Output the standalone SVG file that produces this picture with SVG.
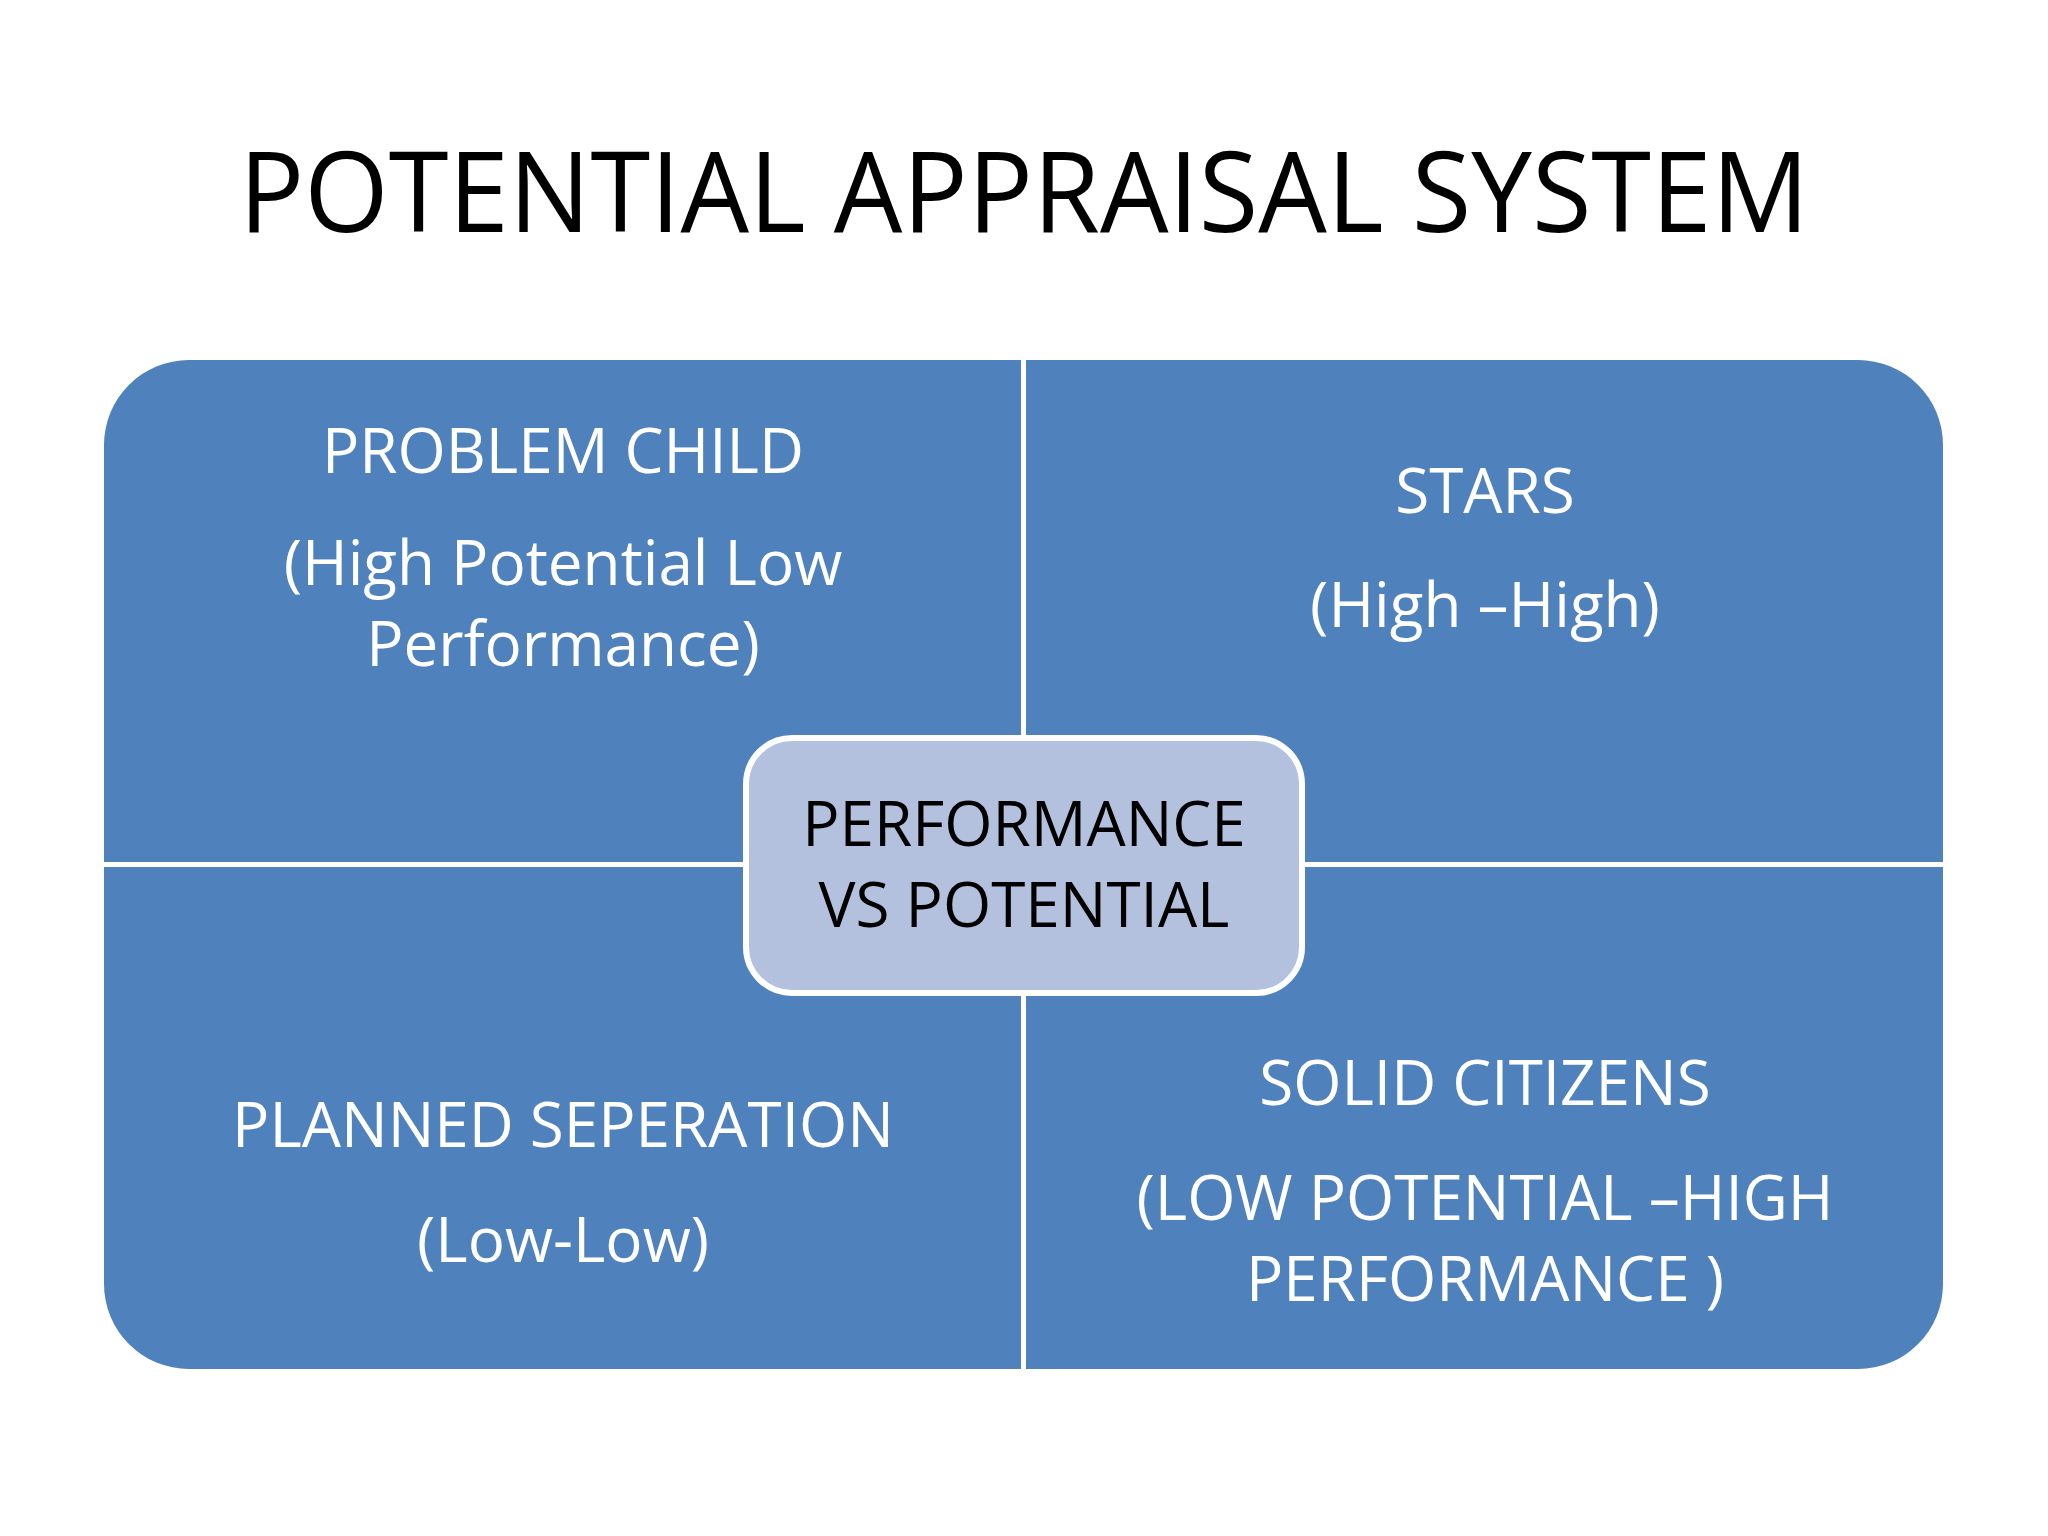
<svg xmlns="http://www.w3.org/2000/svg" width="2048" height="1536" viewBox="0 0 2048 1536">
<style>
.q{fill:#4f81bd}
.t{font-family:"Open Sans","Liberation Sans",sans-serif;font-size:62px;fill:#fff;text-anchor:middle}
.c{font-family:"Open Sans","Liberation Sans",sans-serif;font-size:62px;fill:#000;text-anchor:middle}
</style>
<rect width="2048" height="1536" fill="#fff"/>
<text x="1024" y="232" font-family="Open Sans, Liberation Sans, sans-serif" font-size="112" text-anchor="middle" textLength="1570" lengthAdjust="spacingAndGlyphs">POTENTIAL APPRAISAL SYSTEM</text>
<g id="q1"><path class="q" d="M104 865V445A85 85 0 0 1 189 360H1021V862H104Z"/>
<text class="t" x="563" y="473">PROBLEM CHILD</text>
<text class="t" x="563" y="585">(High Potential Low</text>
<text class="t" x="563" y="666">Performance)</text></g>
<g id="q2"><path class="q" d="M1026 360H1858A85 85 0 0 1 1943 445V862H1026Z"/>
<text class="t" x="1485" y="513">STARS</text>
<text class="t" x="1485" y="627">(High –High)</text></g>
<g id="q3"><path class="q" d="M104 867H1021V1369H189A85 85 0 0 1 104 1284Z"/>
<text class="t" x="563" y="1147">PLANNED SEPERATION</text>
<text class="t" x="563" y="1262">(Low-Low)</text></g>
<g id="q4"><path class="q" d="M1026 867H1943V1284A85 85 0 0 1 1858 1369H1026Z"/>
<text class="t" x="1485" y="1105">SOLID CITIZENS</text>
<text class="t" x="1485" y="1220">(LOW POTENTIAL –HIGH</text>
<text class="t" x="1485" y="1301">PERFORMANCE )</text></g>
<g id="center"><rect x="746" y="738" width="556" height="255" rx="46" fill="#b4c1de" stroke="#fff" stroke-width="6"/>
<text class="c" x="1024" y="846">PERFORMANCE</text>
<text class="c" x="1024" y="927">VS POTENTIAL</text></g>
<g id="connectors"/>
</svg>
